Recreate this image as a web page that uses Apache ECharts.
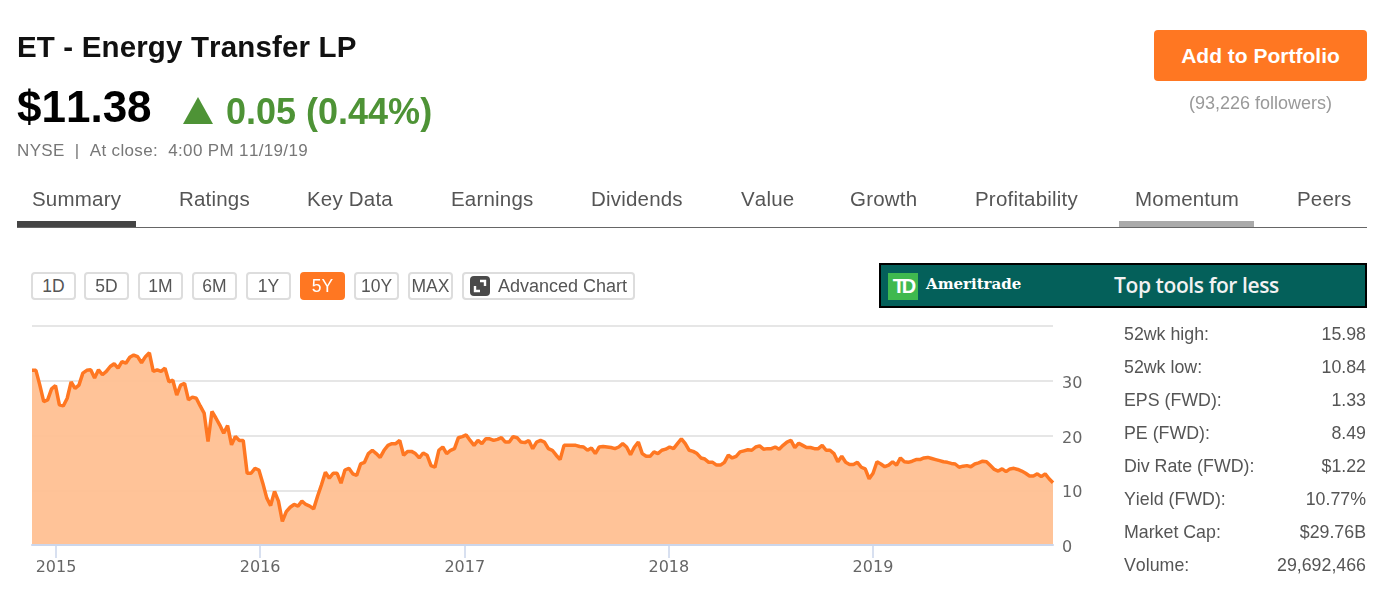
<!DOCTYPE html>
<html><head><meta charset="utf-8">
<script src="https://cdn.jsdelivr.net/npm/echarts@6/dist/echarts.min.js"></script>
<style>
html,body{margin:0;padding:0;background:#fff;width:1385px;height:591px;overflow:hidden;font-family:"Liberation Sans",Arial,sans-serif;font-kerning:none}
.a{position:absolute;white-space:nowrap;line-height:1}
#chart{position:absolute;left:0;top:0;width:1385px;height:591px}
.tab{font-size:20.5px;letter-spacing:.2px;color:#555;top:189px}
.btn{position:absolute;top:272px;height:24px;line-height:24px;width:41px;border:2px solid #ddd;border-radius:4px;text-align:center;font-size:17.5px;color:#555;background:#fff}
.lab{left:1124px;font-size:17.8px;color:#555}
.val{right:19px;font-size:17.8px;color:#555}
</style></head><body>
<div id="chart"></div>
<div class="a" style="left:17px;top:32px;font-size:29.5px;font-weight:700;color:#111;letter-spacing:.15px">ET - Energy Transfer LP</div>
<div class="a" style="left:17px;top:85px;font-size:44px;font-weight:700;color:#000">$11.38</div>
<div class="a" style="left:183px;top:97px;width:0;height:0;border-left:15px solid transparent;border-right:15px solid transparent;border-bottom:27px solid #4e9336"></div>
<div class="a" style="left:226px;top:94px;font-size:36px;font-weight:700;color:#4e9336">0.05 (0.44%)</div>
<div class="a" style="left:17px;top:142px;font-size:17px;letter-spacing:.35px;color:#777">NYSE&nbsp; |&nbsp; At close:&nbsp; 4:00 PM 11/19/19</div>
<div class="a" style="left:1154px;top:30px;width:213px;height:51px;line-height:52px;background:#ff7722;border-radius:4px;color:#fff;font-size:21px;font-weight:700;text-align:center">Add to Portfolio</div>
<div class="a" style="left:1154px;width:213px;text-align:center;top:94px;font-size:18px;color:#999">(93,226 followers)</div>
<div class="a tab" style="left:32px">Summary</div><div class="a tab" style="left:179px">Ratings</div><div class="a tab" style="left:307px">Key Data</div><div class="a tab" style="left:451px">Earnings</div><div class="a tab" style="left:591px">Dividends</div><div class="a tab" style="left:741px">Value</div><div class="a tab" style="left:850px">Growth</div><div class="a tab" style="left:975px">Profitability</div><div class="a tab" style="left:1135px">Momentum</div><div class="a tab" style="left:1297px">Peers</div>
<div class="a" style="left:17px;top:227px;width:1350px;height:1px;background:#666"></div>
<div class="a" style="left:17px;top:221px;width:119px;height:6px;background:#444"></div>
<div class="a" style="left:1119px;top:221px;width:135px;height:6px;background:#aaa"></div>
<div class="btn" style="left:31px">1D</div><div class="btn" style="left:84px">5D</div><div class="btn" style="left:138px">1M</div><div class="btn" style="left:192px">6M</div><div class="btn" style="left:246px">1Y</div><div class="btn" style="left:300px;background:#ff7722;border-color:#ff7722;color:#fff">5Y</div><div class="btn" style="left:354px">10Y</div><div class="btn" style="left:408px">MAX</div>
<div class="btn" style="left:462px;width:169px;text-align:left;text-indent:34px;font-size:18px">Advanced Chart</div>
<svg class="a" style="left:470px;top:276px" width="20" height="20"><rect width="20" height="20" rx="4" fill="#4a4a4a"/><path d="M10 5h5v5M10 15H5v-5" fill="none" stroke="#fff" stroke-width="2.4"/></svg>
<div class="a" style="left:879px;top:263px;width:484px;height:41px;background:#04605a;border:2px solid #000"></div>
<div class="a" style="left:888px;top:273px;width:30px;height:27px;line-height:27px;background:#3fb94f;color:#fff;font-size:20px;font-weight:700;text-align:center;letter-spacing:-3px">TD</div>
<div class="a" style="left:926px;top:277px;font-family:'DejaVu Serif';font-size:15px;font-weight:700;color:#fff">Ameritrade</div>
<div class="a" style="left:1114px;top:275px;font-family:'Open Sans';font-size:21px;font-weight:600;color:#f2f2f2;letter-spacing:-.4px">Top tools for less</div>
<div id="stats"></div>
<script>
var statLabels=["52wk high:","52wk low:","EPS (FWD):","PE (FWD):","Div Rate (FWD):","Yield (FWD):","Market Cap:","Volume:"];
var statValues=["15.98","10.84","1.33","8.49","$1.22","10.77%","$29.76B","29,692,466"];
var startDate="2014-11-19";
var endDate="2019-11-19";
var prices=[31.9,31.9,29.2,26.2,26.5,28.5,29.1,25.6,25.4,26.8,29.8,28.6,29.2,31.4,31.9,32,30.5,32,31.1,31.7,32.6,33.1,32.3,33.5,33.2,34.3,34.7,34.4,33.3,34.4,35.1,31.7,32,31.7,32.3,29.8,30.1,27.4,29.2,29.5,26.5,27,26.8,25.4,24.1,18.9,24.4,23.2,21.9,20.4,21.8,18.3,19.8,19.1,19.1,13.1,13.1,14,13.7,11.3,8.6,7.2,9.8,8,4.3,6.1,6.9,7.4,7.1,8,7.4,7.1,6.6,8.9,11,13.3,12.2,13.1,13.1,11.3,13.7,14,
13,12.7,14.8,15.1,16.7,17.3,16.7,16,17.3,18.2,18.5,18.5,19.1,16.4,17.1,17.1,16.7,15.9,16.8,16.4,14.5,14.2,17.3,17.9,16.7,17.3,17.6,19.6,19.8,20.1,19.1,18.2,19.1,18.5,19.4,19.4,19.1,19.3,19.6,18.8,18.8,19.8,19.6,18.8,18.7,19.1,17.6,18.8,19.1,18.8,17.6,17.3,16.4,15.6,18.2,18.2,18.2,18.2,18,17.9,17.3,17.7,16.7,17.9,18,17.9,17.8,17.6,17.9,18.5,17.9,16.5,17.9,18.8,16.7,16.2,16.2,17,16.7,17.3,17.5,17.9,17.6,18.5,19.4,18.5,17.3,17.1,16.7,15.9,15.7,15.1,
15.1,14.6,14.6,15.1,16.4,15.9,16.2,17,17.2,17.4,17.3,17.9,18.1,17.5,17.6,17.6,17.9,17.5,18.2,18.8,19.1,17.8,18.6,18.2,17.8,17.8,17.6,17.6,18.2,17.3,17.3,16.7,15.2,16.2,15.1,14.7,14.7,15.1,14.2,13.9,12.1,13.1,15.2,14.8,14.3,14.6,15.2,14.6,15.9,15.2,15.1,15.3,15.6,15.6,15.9,16,15.8,15.6,15.4,15.2,15.1,14.9,14.8,14.2,14.4,14.5,14.3,14.8,15,15.3,15.2,14.5,13.8,13.5,13.9,13.4,13.9,14,13.8,13.5,13.1,12.6,12.6,13,12.5,13,12.1,11.38];
var html="";
statLabels.forEach(function(l,i){var t=326+33*i;
 html+='<div class="a lab" style="top:'+t+'px">'+l+'</div><div class="a val" style="top:'+t+'px">'+statValues[i]+'</div>';});
document.getElementById("stats").innerHTML=html;
var t0=Date.parse(startDate),t1=Date.parse(endDate);
var step=(t1-t0)/(prices.length-1);
var pts=prices.map(function(v,i){return [t0+i*step,v];});
var chart=echarts.init(document.getElementById("chart"),null,{renderer:"canvas"});
chart.setOption({
 animation:false,
 grid:{left:32,right:332,top:326,bottom:46,containLabel:false},
 xAxis:{type:"time",min:t0,max:t1,minInterval:3600*1000*24*300,z:5,splitLine:{show:false},
  axisLine:{lineStyle:{color:"#ccd6eb",width:2}},axisTick:{show:true,length:13,lineStyle:{color:"#ccd6eb",width:1.5}},minorTick:{show:false},
  axisLabel:{showMinLabel:false,showMaxLabel:false,margin:15,fontFamily:"DejaVu Sans",fontSize:16,color:"#666",formatter:function(v){return String(new Date(v).getUTCFullYear());}}},
 yAxis:{type:"value",position:"right",min:0,max:40,interval:10,
  axisLine:{show:false},axisTick:{show:false},splitLine:{lineStyle:{color:"#e6e6e6",width:2}},
  axisLabel:{showMaxLabel:false,margin:9,verticalAlign:"top",lineHeight:6,fontFamily:"DejaVu Sans",fontSize:16,color:"#666"}},
 series:[{type:"line",data:pts,showSymbol:false,smooth:false,lineStyle:{color:"#ff7722",width:3.5},areaStyle:{color:"#ffbe90",opacity:.93},itemStyle:{color:"#ff7722"}}]
});
</script>
</body></html>
